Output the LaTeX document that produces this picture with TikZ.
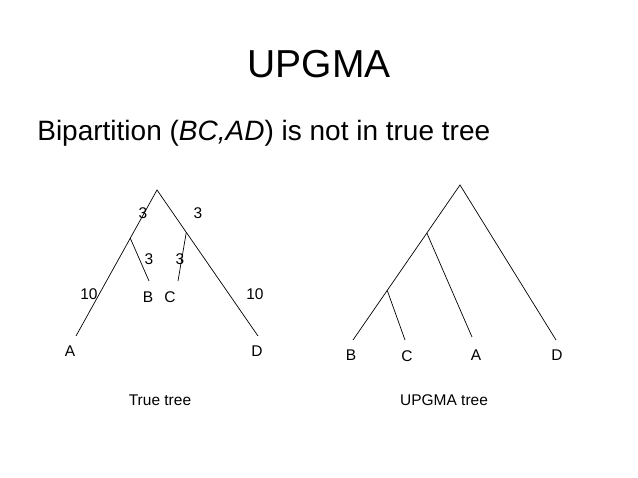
\documentclass[tikz,border=0pt]{standalone}
\usepackage{fontspec}
\usetikzlibrary{calc}
\setmainfont{Liberation Sans}
\begin{document}
\begin{tikzpicture}[x=1pt,y=-1pt,line width=0.7pt,lab/.style={font=\fontsize{15.5}{18}\selectfont,inner sep=0pt}]
\useasboundingbox[fill=white] (0,0) rectangle (638,478);
\node[font=\fontsize{39}{44}\selectfont] (title) at (319,64) {UPGMA};
\node[font=\fontsize{28}{32}\selectfont,anchor=west,inner sep=0pt] (sub) at (37,133) {Bipartition (\textit{BC,AD}) is not in true tree};
% true tree
\coordinate (r) at (157,190);
\coordinate (a) at (76,336);
\coordinate (d) at (258,336);
\coordinate (p) at ($(r)!0.33!(a)$);
\coordinate (q) at ($(r)!0.29!(d)$);
\coordinate (b) at (149,281);
\coordinate (c) at (178,281);
\draw (a) -- (r) -- (d);
\draw (p) -- (b);
\draw (q) -- (c);
\node[lab] (la) at (70,351) {A};
\node[lab] (ld) at (257,351) {D};
\node[lab] (lb) at (148,297) {B};
\node[lab] (lc) at (170,297) {C};
\node[lab] (t1) at (89,294) {10};
\node[lab] (t2) at (255,294) {10};
\node[lab] (t3) at (143,213) {3};
\node[lab] (t4) at (198,213) {3};
\node[lab] (t5) at (149,259) {3};
\node[lab] (t6) at (180,259) {3};
\node[lab] (cap1) at (160,400) {True tree};
% UPGMA tree
\coordinate (R) at (460,185);
\coordinate (B) at (353,340);
\coordinate (D) at (556,340);
\coordinate (P) at ($(R)!0.31!(B)$);
\coordinate (Q) at ($(R)!0.68!(B)$);
\coordinate (A) at (472,337);
\coordinate (C) at (405,340);
\draw (B) -- (R) -- (D);
\draw (P) -- (A);
\draw (Q) -- (C);
\node[lab] (lB) at (351,355) {B};
\node[lab] (lC) at (407,356) {C};
\node[lab] (lA) at (476,355) {A};
\node[lab] (lD) at (557,355) {D};
\node[lab] (cap2) at (444,400) {UPGMA tree};
\end{tikzpicture}
\end{document}
